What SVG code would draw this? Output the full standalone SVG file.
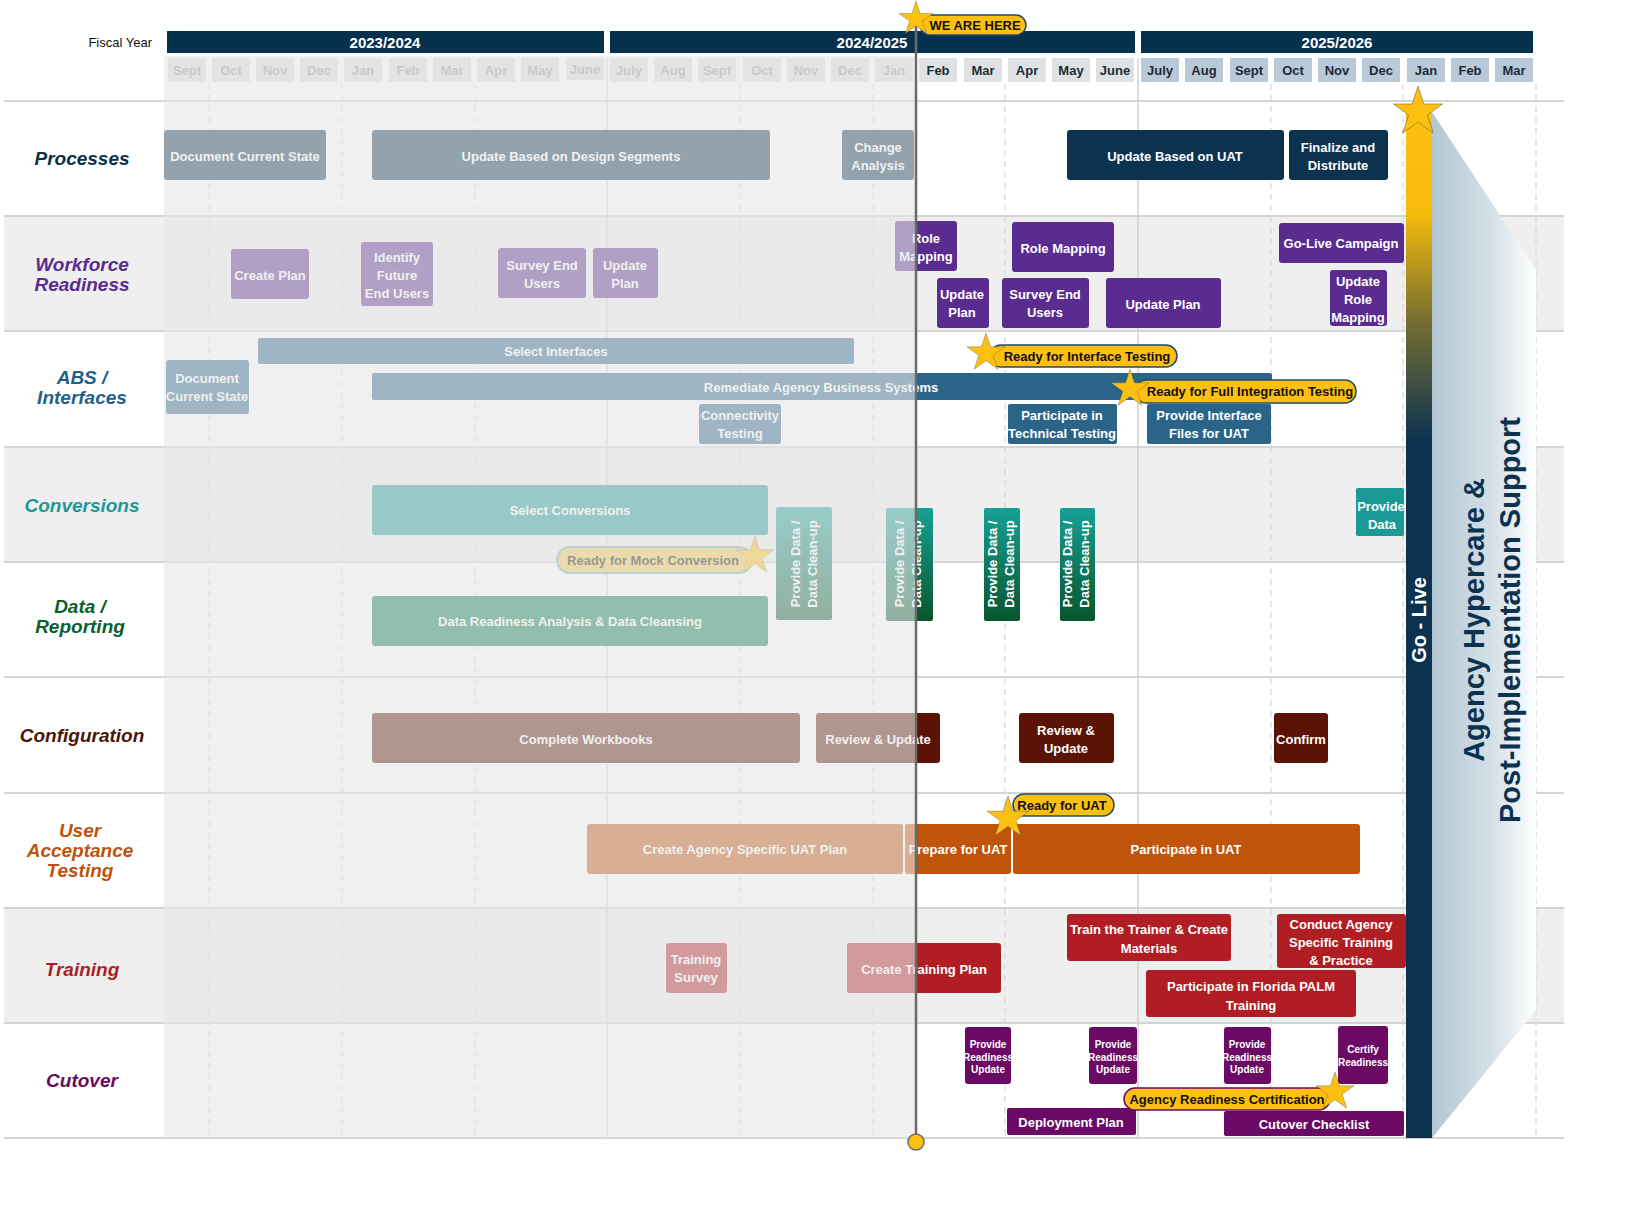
<svg xmlns="http://www.w3.org/2000/svg" xmlns:xlink="http://www.w3.org/1999/xlink" width="1632" height="1212" viewBox="0 0 1632 1212">
<defs>
<style>
text{font-family:"Liberation Sans",Arial,sans-serif}
.bt{fill:#fff;font-weight:bold;font-size:13px;text-anchor:middle}
.sm{font-size:10px}
.mo{font-weight:bold;font-size:13px;text-anchor:middle}
.yr{fill:#fff;font-size:15px;font-weight:bold;text-anchor:middle}
.rl{font-weight:bold;font-style:italic;font-size:19px;text-anchor:middle}
.pl{fill:#fdc010;stroke:#1f4a6e;stroke-width:1.5}
.pt{fill:#111;font-weight:bold;font-size:13px;text-anchor:middle}
.st{fill:#fdc010;stroke:#1f3550;stroke-width:0.15}
.hl{stroke:#d4d4d4;stroke-width:2}
.dl{stroke:#d8d8d8;stroke-width:1.2;stroke-dasharray:6 5}
.pr{fill:#0b3350}.wf{fill:#5b2c8f}.ab{fill:#2a6589}.cv{fill:#1a9a96}.dt{fill:#0c7a4e}.cf{fill:#5a1305}.ua{fill:#bf540a}.tr{fill:#b01e24}.cu{fill:#6a0a64}
</style>
<path id="star" d="M0,-10 L2.25,-3.09 L9.51,-3.09 L3.63,1.18 L5.88,8.09 L0,3.82 L-5.88,8.09 L-3.63,1.18 L-9.51,-3.09 L-2.25,-3.09 Z"/>
<linearGradient id="gl" x1="0" y1="0" x2="0" y2="1"><stop offset="0" stop-color="#fdc010"/><stop offset="0.1" stop-color="#f5bb0a"/><stop offset="0.2" stop-color="#7a7030"/><stop offset="0.32" stop-color="#0b3350"/><stop offset="1" stop-color="#0b3350"/></linearGradient>
<linearGradient id="hc" x1="0" y1="0" x2="1" y2="0"><stop offset="0" stop-color="#b3c7d4"/><stop offset="0.6" stop-color="#d6e1e8"/><stop offset="1" stop-color="#ffffff"/></linearGradient>
<linearGradient id="pd" x1="0" y1="0" x2="0" y2="1"><stop offset="0" stop-color="#17a096"/><stop offset="1" stop-color="#07552d"/></linearGradient>
</defs>
<rect width="1632" height="1212" fill="#fff"/>
<g id="bands">
<rect x="4" y="216" width="1560" height="115" fill="#efefef"/>
<rect x="4" y="447" width="1560" height="115" fill="#efefef"/>
<rect x="4" y="908" width="1560" height="115" fill="#efefef"/>
<line class="hl" x1="4" y1="101" x2="1564" y2="101"/><line class="hl" x1="4" y1="216" x2="1564" y2="216"/><line class="hl" x1="4" y1="331" x2="1564" y2="331"/><line class="hl" x1="4" y1="447" x2="1564" y2="447"/><line class="hl" x1="4" y1="562" x2="1564" y2="562"/><line class="hl" x1="4" y1="677" x2="1564" y2="677"/><line class="hl" x1="4" y1="793" x2="1564" y2="793"/><line class="hl" x1="4" y1="908" x2="1564" y2="908"/><line class="hl" x1="4" y1="1023" x2="1564" y2="1023"/><line class="hl" x1="4" y1="1138" x2="1564" y2="1138"/>
<line class="dl" x1="209" y1="84" x2="209" y2="1138"/><line class="dl" x1="342" y1="84" x2="342" y2="1138"/><line class="dl" x1="475" y1="84" x2="475" y2="1138"/><line x1="607" y1="58" x2="607" y2="1138" stroke="#d0d0d0" stroke-width="1.5"/><line class="dl" x1="740" y1="84" x2="740" y2="1138"/><line class="dl" x1="873" y1="84" x2="873" y2="1138"/><line class="dl" x1="1005" y1="84" x2="1005" y2="1138"/><line x1="1138" y1="58" x2="1138" y2="1138" stroke="#d0d0d0" stroke-width="1.5"/><line class="dl" x1="1271" y1="84" x2="1271" y2="1138"/><line class="dl" x1="1403" y1="84" x2="1403" y2="1138"/><line class="dl" x1="1536" y1="84" x2="1536" y2="1138"/>
</g>
<g id="header">
<text x="152" y="47" font-size="13" text-anchor="end" fill="#111">Fiscal Year</text>
<rect x="167" y="31" width="437" height="22" fill="#06314d"/><text class="yr" x="385" y="48">2023/2024</text>
<rect x="610" y="31" width="525" height="22" fill="#06314d"/><text class="yr" x="872" y="48">2024/2025</text>
<rect x="1141" y="31" width="392" height="22" fill="#06314d"/><text class="yr" x="1337" y="48">2025/2026</text>
<g fill="#d9dde0">
<rect x="168" y="58" width="38" height="24"/><rect x="212" y="58" width="38" height="24"/><rect x="256" y="58" width="38" height="24"/><rect x="300" y="58" width="38" height="24"/><rect x="344" y="58" width="38" height="24"/><rect x="389" y="58" width="38" height="24"/><rect x="433" y="58" width="38" height="24"/><rect x="477" y="58" width="38" height="24"/><rect x="521" y="58" width="38" height="24"/><rect x="566" y="58" width="38" height="22"/><rect x="610" y="58" width="38" height="24"/><rect x="654" y="58" width="38" height="24"/><rect x="698" y="58" width="38" height="24"/><rect x="743" y="58" width="38" height="24"/><rect x="787" y="58" width="38" height="24"/><rect x="831" y="58" width="38" height="24"/><rect x="875" y="58" width="38" height="24"/>
<rect x="919" y="58" width="38" height="24" fill="#dfe2e5"/><rect x="964" y="58" width="38" height="24" fill="#dfe2e5"/><rect x="1008" y="58" width="38" height="24" fill="#dfe2e5"/><rect x="1052" y="58" width="38" height="24" fill="#dfe2e5"/><rect x="1096" y="58" width="38" height="24" fill="#dfe2e5"/>
</g>
<g fill="#b9c9d7">
<rect x="1141" y="58" width="38" height="24"/><rect x="1185" y="58" width="38" height="24"/><rect x="1230" y="58" width="38" height="24"/><rect x="1274" y="58" width="38" height="24"/><rect x="1318" y="58" width="38" height="24"/><rect x="1362" y="58" width="38" height="24"/><rect x="1407" y="58" width="38" height="24"/><rect x="1451" y="58" width="38" height="24"/><rect x="1495" y="58" width="38" height="24"/>
</g>
<g class="mo" fill="#1d2a38">
<text x="187" y="75" fill="#9a9a9a">Sept</text><text x="231" y="75" fill="#9a9a9a">Oct</text><text x="275" y="75" fill="#9a9a9a">Nov</text><text x="319" y="75" fill="#9a9a9a">Dec</text><text x="363" y="75" fill="#9a9a9a">Jan</text><text x="408" y="75" fill="#9a9a9a">Feb</text><text x="452" y="75" fill="#9a9a9a">Mar</text><text x="496" y="75" fill="#9a9a9a">Apr</text><text x="540" y="75" fill="#9a9a9a">May</text><text x="585" y="74" fill="#9a9a9a">June</text><text x="629" y="75" fill="#9a9a9a">July</text><text x="673" y="75" fill="#9a9a9a">Aug</text><text x="717" y="75" fill="#9a9a9a">Sept</text><text x="762" y="75" fill="#9a9a9a">Oct</text><text x="806" y="75" fill="#9a9a9a">Nov</text><text x="850" y="75" fill="#9a9a9a">Dec</text><text x="894" y="75" fill="#9a9a9a">Jan</text>
<text x="938" y="75">Feb</text><text x="983" y="75">Mar</text><text x="1027" y="75">Apr</text><text x="1071" y="75">May</text><text x="1115" y="75">June</text><text x="1160" y="75">July</text><text x="1204" y="75">Aug</text><text x="1249" y="75">Sept</text><text x="1293" y="75">Oct</text><text x="1337" y="75">Nov</text><text x="1381" y="75">Dec</text><text x="1426" y="75">Jan</text><text x="1470" y="75">Feb</text><text x="1514" y="75">Mar</text>
</g>
</g>
<g id="row-labels">
<text class="rl" x="82" y="165" fill="#0b2f4a">Processes</text>
<text class="rl" x="82" y="271" fill="#5b2c8f">Workforce<tspan x="82" dy="20">Readiness</tspan></text>
<text class="rl" x="82" y="384" fill="#1f5f8b">ABS /<tspan x="82" dy="20">Interfaces</tspan></text>
<text class="rl" x="82" y="512" fill="#1a9a96">Conversions</text>
<text class="rl" x="80" y="613" fill="#0b5e2e">Data /<tspan x="80" dy="20">Reporting</tspan></text>
<text class="rl" x="82" y="742" fill="#4a1505">Configuration</text>
<text class="rl" x="80" y="837" fill="#c0530a">User<tspan x="80" dy="20">Acceptance</tspan><tspan x="80" dy="20">Testing</tspan></text>
<text class="rl" x="82" y="976" fill="#b01e24">Training</text>
<text class="rl" x="82" y="1087" fill="#6a0a5e">Cutover</text>
</g>
<g id="hypercare">
<path d="M1432,112 L1536,270 L1536,1010 L1432,1138 Z" fill="url(#hc)"/>
<text transform="translate(1484,620) rotate(-90)" text-anchor="middle" font-size="29" font-weight="bold" fill="#0b3350">Agency Hypercare &amp;</text>
<text transform="translate(1520,620) rotate(-90)" text-anchor="middle" font-size="29" font-weight="bold" fill="#0b3350">Post-Implementation Support</text>
</g>
<g id="golive">
<rect x="1406" y="112" width="26" height="1026" fill="url(#gl)"/>
<text transform="translate(1426,620) rotate(-90)" text-anchor="middle" font-size="20" font-weight="bold" fill="#fff">Go - Live</text>
</g>
<g id="nodes">
<g id="n-proc"><rect class="pr" x="164" y="130" width="162" height="50" rx="3"/><text class="bt" x="245" y="161">Document Current State</text>
<rect class="pr" x="372" y="130" width="398" height="50" rx="3"/><text class="bt" x="571" y="161">Update Based on Design Segments</text>
<rect class="pr" x="842" y="130" width="72" height="50" rx="3"/><text class="bt" x="878" y="152">Change<tspan x="878" dy="18">Analysis</tspan></text>
<rect class="pr" x="1067" y="130" width="217" height="50" rx="3"/><text class="bt" x="1175" y="161">Update Based on UAT</text>
<rect class="pr" x="1289" y="130" width="99" height="50" rx="3"/><text class="bt" x="1338" y="152">Finalize and<tspan x="1338" dy="18">Distribute</tspan></text></g>
<g id="n-wf"><rect class="wf" x="231" y="249" width="78" height="50" rx="3"/><text class="bt" x="270" y="280">Create Plan</text>
<rect class="wf" x="361" y="242" width="72" height="64" rx="3"/><text class="bt" x="397" y="262">Identify<tspan x="397" dy="18">Future</tspan><tspan x="397" dy="18">End Users</tspan></text>
<rect class="wf" x="498" y="248" width="88" height="50" rx="3"/><text class="bt" x="542" y="270">Survey End<tspan x="542" dy="18">Users</tspan></text>
<rect class="wf" x="593" y="248" width="65" height="50" rx="3"/><text class="bt" x="625" y="270">Update<tspan x="625" dy="18">Plan</tspan></text>
<rect class="wf" x="895" y="221" width="62" height="50" rx="3"/><text class="bt" x="926" y="243">Role<tspan x="926" dy="18">Mapping</tspan></text>
<rect class="wf" x="1012" y="222" width="102" height="50" rx="3"/><text class="bt" x="1063" y="253">Role Mapping</text>
<rect class="wf" x="937" y="278" width="52" height="50" rx="3"/><text class="bt" x="962" y="299">Update<tspan x="962" dy="18">Plan</tspan></text>
<rect class="wf" x="1002" y="278" width="87" height="50" rx="3"/><text class="bt" x="1045" y="299">Survey End<tspan x="1045" dy="18">Users</tspan></text>
<rect class="wf" x="1106" y="278" width="115" height="50" rx="3"/><text class="bt" x="1163" y="309">Update Plan</text>
<rect class="wf" x="1279" y="223" width="125" height="40" rx="3"/><text class="bt" x="1341" y="248">Go-Live Campaign</text>
<rect class="wf" x="1330" y="270" width="57" height="56" rx="3"/><text class="bt" x="1358" y="286">Update<tspan x="1358" dy="18">Role</tspan><tspan x="1358" dy="18">Mapping</tspan></text></g>
<g id="n-abs"><rect class="ab" x="258" y="338" width="596" height="26" rx="2"/><text class="bt" x="556" y="356">Select Interfaces</text>
<rect class="ab" x="166" y="360" width="83" height="54" rx="3"/><text class="bt" x="207" y="383">Document<tspan x="207" dy="18">Current State</tspan></text>
<rect class="ab" x="372" y="373" width="900" height="27" rx="2"/><text class="bt" x="821" y="392">Remediate Agency Business Systems</text>
<rect class="ab" x="699" y="404" width="82" height="40" rx="2"/><text class="bt" x="740" y="420">Connectivity<tspan x="740" dy="18">Testing</tspan></text>
<rect class="ab" x="1008" y="404" width="109" height="40" rx="2"/><text class="bt" x="1062" y="420">Participate in<tspan x="1062" dy="18">Technical Testing</tspan></text>
<rect class="ab" x="1147" y="404" width="124" height="40" rx="2"/><text class="bt" x="1209" y="420">Provide Interface<tspan x="1209" dy="18">Files for UAT</tspan></text></g>
<g id="n-conv"><rect class="cv" x="372" y="485" width="396" height="50" rx="3"/><text class="bt" x="570" y="515">Select Conversions</text>
<rect class="cv" x="1356" y="488" width="48" height="48" rx="2"/><text class="bt" x="1381" y="511">Provide<tspan x="1382" dy="18">Data</tspan></text></g>
<g id="n-data"><rect class="dt" x="372" y="596" width="396" height="50" rx="3"/><text class="bt" x="570" y="626">Data Readiness Analysis &amp; Data Cleansing</text>
<rect fill="url(#pd)" x="776" y="507" width="56" height="113" rx="2"/><text class="bt" transform="translate(800,564) rotate(-90)">Provide  Data /<tspan x="0" dy="17">Data Clean-up</tspan></text>
<rect fill="url(#pd)" x="886" y="508" width="47" height="113" rx="2"/><text class="bt" transform="translate(904,564) rotate(-90)">Provide Data /<tspan x="0" dy="17">Data Clean-up</tspan></text>
<rect fill="url(#pd)" x="984" y="508" width="36" height="113" rx="2"/><text class="bt" transform="translate(997,564) rotate(-90)">Provide Data /<tspan x="0" dy="17">Data Clean-up</tspan></text>
<rect fill="url(#pd)" x="1060" y="508" width="35" height="113" rx="2"/><text class="bt" transform="translate(1072,564) rotate(-90)">Provide Data /<tspan x="0" dy="17">Data Clean-up</tspan></text></g>
<g id="n-conf"><rect class="cf" x="372" y="713" width="428" height="50" rx="3"/><text class="bt" x="586" y="744">Complete Workbooks</text>
<rect class="cf" x="816" y="713" width="124" height="50" rx="3"/><text class="bt" x="878" y="744">Review &amp; Update</text>
<rect class="cf" x="1019" y="713" width="95" height="50" rx="3"/><text class="bt" x="1066" y="735">Review &amp;<tspan x="1066" dy="18">Update</tspan></text>
<rect class="cf" x="1274" y="713" width="54" height="50" rx="3"/><text class="bt" x="1301" y="744">Confirm</text></g>
<g id="n-uat"><rect class="ua" x="587" y="824" width="316" height="50" rx="3"/><text class="bt" x="745" y="854">Create Agency Specific UAT Plan</text>
<rect class="ua" x="905" y="824" width="106" height="50" rx="3"/><text class="bt" x="958" y="854">Prepare for UAT</text>
<rect class="ua" x="1013" y="824" width="347" height="50" rx="3"/><text class="bt" x="1186" y="854">Participate in UAT</text></g>
<g id="n-train"><rect class="tr" x="666" y="943" width="61" height="50" rx="3"/><text class="bt" x="696" y="964">Training<tspan x="696" dy="18">Survey</tspan></text>
<rect class="tr" x="847" y="943" width="154" height="50" rx="3"/><text class="bt" x="924" y="974">Create Training Plan</text>
<rect class="tr" x="1067" y="914" width="164" height="47" rx="3"/><text class="bt" x="1149" y="934">Train the Trainer &amp; Create<tspan x="1149" dy="19">Materials</tspan></text>
<rect class="tr" x="1277" y="914" width="129" height="54" rx="3"/><text class="bt" x="1341" y="929">Conduct Agency<tspan x="1341" dy="18">Specific Training</tspan><tspan x="1341" dy="18">&amp; Practice</tspan></text>
<rect class="tr" x="1146" y="970" width="210" height="47" rx="3"/><text class="bt" x="1251" y="991">Participate in Florida PALM<tspan x="1251" dy="19">Training</tspan></text></g>
<g id="n-cut"><rect class="cu" x="965" y="1027" width="46" height="57" rx="3"/><text class="bt sm" x="988" y="1048">Provide<tspan x="988" dy="12.5">Readiness</tspan><tspan x="988" dy="12.5">Update</tspan></text>
<rect class="cu" x="1089" y="1027" width="48" height="57" rx="3"/><text class="bt sm" x="1113" y="1048">Provide<tspan x="1113" dy="12.5">Readiness</tspan><tspan x="1113" dy="12.5">Update</tspan></text>
<rect class="cu" x="1224" y="1027" width="47" height="57" rx="3"/><text class="bt sm" x="1247" y="1048">Provide<tspan x="1247" dy="12.5">Readiness</tspan><tspan x="1247" dy="12.5">Update</tspan></text>
<rect class="cu" x="1338" y="1026" width="50" height="58" rx="3"/><text class="bt sm" x="1363" y="1053">Certify<tspan x="1363" dy="13">Readiness</tspan></text>
<rect class="cu" x="1007" y="1108" width="129" height="27" rx="2"/><text class="bt" x="1071" y="1127">Deployment Plan</text>
<rect class="cu" x="1224" y="1111" width="180" height="25" rx="2"/><text class="bt" x="1314" y="1129">Cutover Checklist</text></g>
<g id="m-mock"><rect x="557" y="547" width="195" height="26" rx="13" fill="#f2c94c" stroke="#6fb3b8" stroke-width="2"/><text class="pt" x="653" y="565">Ready for Mock Conversion</text><use href="#star" transform="translate(755,556) scale(2)" class="st"/></g>
</g>
<rect id="past" x="164" y="56" width="752" height="1082" fill="#e6e6e6" opacity="0.62"/>
<g id="milestones">
<line x1="916" y1="10" x2="916" y2="1140" stroke="#6a6a6a" stroke-width="2.5"/>
<circle cx="916" cy="1142" r="8" fill="#fdc010" stroke="#6a6a6a" stroke-width="1.5"/>
<rect class="pl" x="920" y="15" width="106" height="20" rx="10"/><text class="pt" x="975" y="30">WE ARE HERE</text><use href="#star" transform="translate(916,19) scale(1.8)" class="st"/>
<use href="#star" transform="translate(1418,112) scale(2.6)" class="st"/>
<rect class="pl" x="990" y="345" width="187" height="22" rx="11"/><text class="pt" x="1087" y="361">Ready for Interface Testing</text><use href="#star" transform="translate(986,353) scale(2)" class="st"/>
<rect class="pl" x="1135" y="380" width="221" height="23" rx="11"/><text class="pt" x="1250" y="396">Ready for Full Integration Testing</text><use href="#star" transform="translate(1130,389) scale(2)" class="st"/>
<rect class="pl" x="1013" y="794" width="101" height="22" rx="11"/><text class="pt" x="1062" y="810">Ready for UAT</text><use href="#star" transform="translate(1008,818) scale(2.2)" class="st"/>
<rect class="pl" x="1124" y="1088" width="206" height="22" rx="11" style="stroke:#6a0a64"/><text class="pt" x="1227" y="1104">Agency Readiness Certification</text><use href="#star" transform="translate(1335,1092) scale(2)" class="st"/>
</g>
</svg>
